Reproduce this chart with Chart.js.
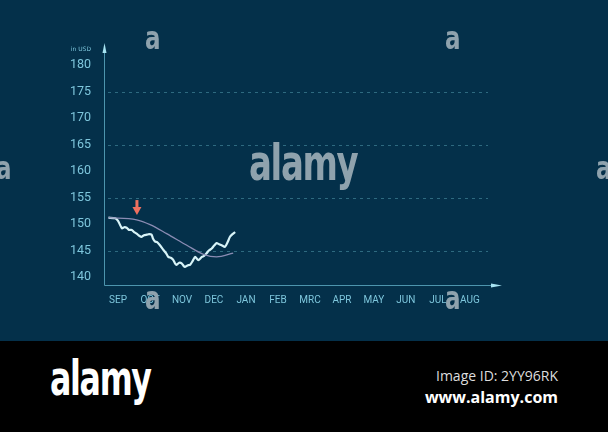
<!DOCTYPE html>
<html>
<head>
<meta charset="utf-8">
<script src="https://cdn.jsdelivr.net/npm/chart.js@4.4.1/dist/chart.umd.min.js"></script>
<style>
  html, body { margin: 0; padding: 0; background: #000; }
  #wrap { position: relative; width: 608px; height: 432px; overflow: hidden; }
  #plot { position: absolute; left: 0; top: 0; width: 608px; height: 341px; background: #04304a; }
  #footer { position: absolute; left: 0; top: 341px; width: 608px; height: 91px; background: #000; }
  .mark { position: absolute; font-family: 'DejaVu Sans', sans-serif; font-weight: bold; color: #8fa2ad; line-height: 1; transform-origin: left top; }
  .big { transform: scaleX(0.68); letter-spacing: -2px; }
  .small { transform: scaleX(0.72); }
  .logo { position: absolute; left: 50px; top: 354px; font-family: 'DejaVu Sans', sans-serif; font-weight: bold; font-size: 48px; color: #fff; line-height: 1; letter-spacing: -2px; transform: scaleX(0.66); transform-origin: left top; }
  .imgid { position: absolute; right: 50px; top: 366px; font-family: 'Open Sans', 'DejaVu Sans', sans-serif; font-size: 14px; color: #ddd; }
  .site { position: absolute; right: 50px; top: 386px; font-family: 'Open Sans', 'DejaVu Sans', sans-serif; font-weight: bold; font-size: 16px; color: #fff; }
</style>
</head>
<body>
<div id="wrap">
  <div id="plot"><canvas id="chart" width="608" height="341"></canvas></div>
  <div id="footer"></div>
  <div class="mark big" style="left:249px;top:138px;font-size:50px;">alamy</div>
  <div class="mark small" style="left:145px;top:22px;font-size:32px;">a</div>
  <div class="mark small" style="left:445px;top:22px;font-size:32px;">a</div>
  <div class="mark small" style="left:-4px;top:152px;font-size:32px;">a</div>
  <div class="mark small" style="left:596px;top:152px;font-size:32px;">a</div>
  <div class="mark small" style="left:145px;top:282px;font-size:32px;">a</div>
  <div class="mark small" style="left:445px;top:282px;font-size:32px;">a</div>
  <div class="logo">alamy</div>
  <div class="imgid">Image ID: 2YY96RK</div>
  <div class="site">www.alamy.com</div>
</div>
<script>
// month positions: 0 = SEP, 1 = OCT, ...
const months = ['SEP', 'OCT', 'NOV', 'DEC', 'JAN', 'FEB', 'MRC', 'APR', 'MAY', 'JUN', 'JUL', 'AUG'];
const yTicks = [140, 145, 150, 155, 160, 165, 170, 175, 180];
const gridValues = [145, 155, 165, 175];

const priceX = [-0.30, -0.09, 0.00, 0.12, 0.19, 0.27, 0.34, 0.43, 0.50, 0.58, 0.66, 0.74, 0.81, 0.90,
  0.97, 1.05, 1.09, 1.16, 1.22, 1.31, 1.42, 1.50, 1.57, 1.66, 1.73, 1.78, 1.83, 1.91, 1.99, 2.05,
  2.09, 2.17, 2.25, 2.33, 2.41, 2.51, 2.62, 2.69, 2.77, 2.84, 2.93, 3.00, 3.08, 3.16, 3.24, 3.34,
  3.42, 3.50, 3.58, 3.66];
const priceY = [151.2, 151.1, 150.6, 149.2, 149.4, 149.3, 148.9, 148.9, 148.5, 148.2, 147.8, 147.6, 147.9, 148.0,
  148.1, 148.0, 147.3, 146.7, 146.6, 146.0, 145.1, 144.5, 143.8, 143.6, 143.2, 142.6, 142.3, 142.7, 142.6, 142.1,
  141.9, 142.2, 142.3, 143.0, 143.8, 143.2, 143.8, 144.0, 144.5, 145.0, 145.4, 145.9, 146.4, 146.2, 146.0, 145.7,
  146.5, 147.6, 148.1, 148.5];

const trendX = [-0.30, 0.58, 1.00, 1.52, 2.15, 2.67, 3.08, 3.60];
const trendY = [151.2, 150.8, 149.9, 148.2, 146.0, 144.3, 143.8, 144.5];

// red marker arrow tip
const markerX = 0.59;
const markerY = 151.7;

const COLORS = {
  line: '#d8f4f8',
  trend: '#8a8cb3',
  tick: '#7ec6dc',
  axis: '#4d95ae',
  grid: '#2e6a80',
  marker: '#f0705f'
};

const toPoints = (xs, ys) => xs.map((x, i) => ({ x, y: ys[i] }));

const decorPlugin = {
  id: 'decor',
  beforeDatasetsDraw(chart) {
    const { ctx, chartArea, scales } = chart;
    const { left, right, top, bottom } = chartArea;
    ctx.save();
    // dashed grid
    ctx.strokeStyle = COLORS.grid;
    ctx.lineWidth = 1;
    ctx.setLineDash([3, 4]);
    gridValues.forEach(v => {
      const y = Math.round(scales.y.getPixelForValue(v)) + 0.5;
      ctx.beginPath();
      ctx.moveTo(left + 4, y);
      ctx.lineTo(right - 9, y);
      ctx.stroke();
    });
    ctx.setLineDash([]);
    // axes
    ctx.strokeStyle = COLORS.axis;
    ctx.beginPath();
    ctx.moveTo(left + 0.5, top + 4);
    ctx.lineTo(left + 0.5, bottom + 0.5);
    ctx.lineTo(right, bottom + 0.5);
    ctx.stroke();
    // axis arrow heads
    ctx.fillStyle = '#a8e4f2';
    ctx.beginPath();
    ctx.moveTo(left + 0.5, top - 2);
    ctx.lineTo(left - 1.5, top + 8);
    ctx.lineTo(left + 2.5, top + 8);
    ctx.closePath();
    ctx.fill();
    ctx.beginPath();
    ctx.moveTo(right + 5, bottom + 0.5);
    ctx.lineTo(right - 6, bottom - 1.5);
    ctx.lineTo(right - 6, bottom + 2.5);
    ctx.closePath();
    ctx.fill();
    // unit label
    ctx.fillStyle = COLORS.tick;
    ctx.font = "6px 'DejaVu Sans', sans-serif";
    ctx.textAlign = 'right';
    ctx.textBaseline = 'middle';
    ctx.fillText('in USD', left - 13, top + 4);
    ctx.restore();
  },
  afterDatasetsDraw(chart) {
    const { ctx, scales } = chart;
    const x = scales.x.getPixelForValue(markerX);
    const y = scales.y.getPixelForValue(markerY);
    ctx.save();
    ctx.fillStyle = COLORS.marker;
    ctx.fillRect(x - 1.5, y - 15, 3, 8);
    ctx.beginPath();
    ctx.moveTo(x - 4.5, y - 8);
    ctx.lineTo(x + 4.5, y - 8);
    ctx.lineTo(x, y);
    ctx.closePath();
    ctx.fill();
    ctx.restore();
  }
};

new Chart(document.getElementById('chart'), {
  type: 'scatter',
  data: {
    datasets: [
      {
        label: 'Trend',
        data: toPoints(trendX, trendY),
        showLine: true,
        borderColor: COLORS.trend,
        borderWidth: 1.3,
        pointRadius: 0,
        cubicInterpolationMode: 'monotone'
      },
      {
        label: 'Price',
        data: toPoints(priceX, priceY),
        showLine: true,
        borderColor: COLORS.line,
        borderWidth: 2.2,
        pointRadius: 0,
        tension: 0.2
      }
    ]
  },
  options: {
    responsive: false,
    animation: false,
    layout: { padding: { left: 0, right: 111, top: 45, bottom: 0 } },
    plugins: { legend: { display: false }, tooltip: { enabled: false } },
    scales: {
      x: {
        type: 'linear',
        min: -0.44,
        max: 11.85,
        afterBuildTicks: s => { s.ticks = months.map((m, i) => ({ value: i })); },
        afterFit: s => { s.height = 56; },
        grid: { display: false, drawTicks: false },
        border: { display: false },
        ticks: {
          padding: 9,
          color: COLORS.tick,
          font: { family: 'Roboto', size: 10 },
          callback: v => months[v] ?? ''
        }
      },
      y: {
        min: 138.5,
        max: 183.8,
        afterBuildTicks: s => { s.ticks = yTicks.map(v => ({ value: v })); },
        afterFit: s => { s.width = 104; },
        grid: { display: false, drawTicks: false },
        border: { display: false },
        ticks: {
          padding: 13,
          color: COLORS.tick,
          font: { family: 'Roboto', size: 12.5 }
        }
      }
    }
  },
  plugins: [decorPlugin]
});
</script>
</body>
</html>
